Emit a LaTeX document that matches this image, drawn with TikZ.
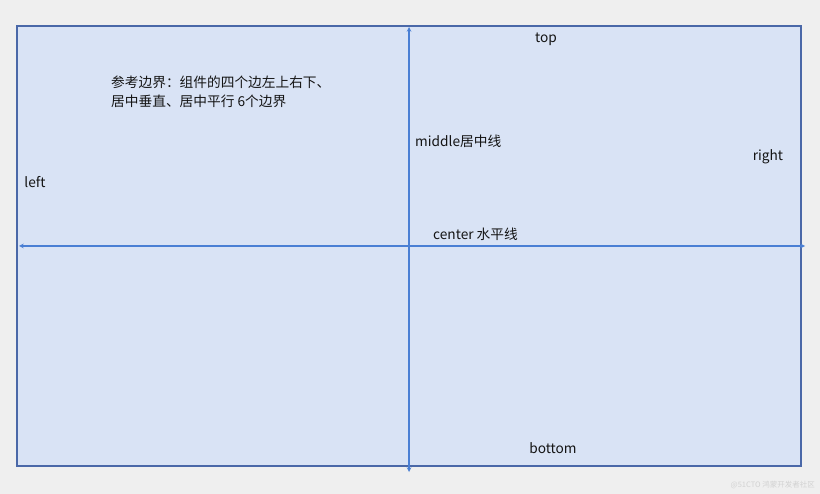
\documentclass[tikz,border=0pt]{standalone}
\usepackage{fontspec}
\setmainfont{Noto Sans CJK SC}
\usepackage{xcolor}
\usetikzlibrary{calc}

\definecolor{pagegray}{HTML}{EFEFEF}
\definecolor{boxfill}{HTML}{D9E3F5}
\definecolor{boxedge}{HTML}{4A68A8}
\definecolor{guideblue}{HTML}{4A7FD4}
\definecolor{marktext}{HTML}{D2D2D2}

\tikzset{
	label text/.style={text=black!92, inner sep=0pt, font=\fontsize{13.7}{19}\selectfont},
	guide/.style={guideblue, line width=1.1pt, stealth-stealth}
}

\begin{document}
\begin{tikzpicture}[x=1pt, y=-1pt]
			\def\W{820};
			\def\H{494};
			\def\midx{409};
			\def\midy{246};

			\useasboundingbox[fill=pagegray] (0,0) rectangle (\W,\H);

			\coordinate (box nw) at (17,26);
			\coordinate (box se) at (801,466);

			\begin{scope}
				\draw [boxedge, fill=boxfill, line width=1.2pt] (box nw) rectangle (box se);
			\end{scope}

			\coordinate (middle top) at (\midx,27);
			\coordinate (middle bottom) at (\midx,472);
			\coordinate (center left) at (19,\midy);
			\coordinate (center right) at (805,\midy);

			\begin{scope}
				\draw [guide] (middle bottom) -- (middle top);
				\draw [guide] (center left) -- (center right);
			\end{scope}

			\begin{scope}[label text]
				\node (top) at (546,39) {top};
				\node (left) at (35,182) {left};
				\node (right) at (768,157) {right};
				\node (bottom) at (553,448) {bottom};
				\node [anchor=west] (middle) at (415,141) {middle居中线};
				\node [anchor=west] (center) at (433,234) {center 水平线};
				\node [anchor=west] (note one) at (111,82) {参考边界：组件的四个边左上右下、};
				\node [anchor=west] (note two) at (111,101) {居中垂直、居中平行 6个边界};
			\end{scope}

			\node [anchor=east, inner sep=0pt, text=marktext, font=\fontsize{7.5}{9}\selectfont] (watermark) at (815,485) {@51CTO 鸿蒙开发者社区};
		\end{tikzpicture}
\end{document}
